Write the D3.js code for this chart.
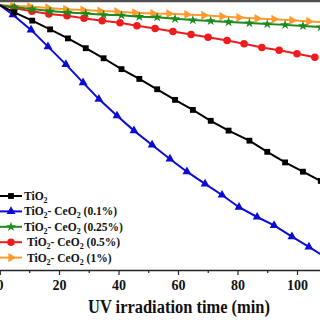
<!DOCTYPE html>
<html>
<head>
<meta charset="utf-8">
<script src="https://cdn.jsdelivr.net/npm/d3@7"></script>
<style>
  html, body { margin: 0; padding: 0; background: #fff; }
  svg { display: block; }
</style>
</head>
<body>
<svg id="chart" width="320" height="320"></svg>
<script>
// values: time (min) and C/C0
var tBlack = [0, 5, 11, 17, 23, 29, 35, 41, 47, 53, 59, 65, 71, 77, 84, 90, 96, 102, 108];
var vBlack = [1.000, 0.972, 0.941, 0.908, 0.874, 0.837, 0.799, 0.758, 0.721, 0.682, 0.642, 0.604, 0.563, 0.526, 0.488, 0.446, 0.406, 0.371, 0.336];

var tBlue = [0, 4.5, 10.6, 16.3, 22.3, 28.1, 33.4, 39.5, 45.2, 51.3, 57.3, 63, 69.1, 74.8, 80.5, 86.6, 92.3, 98.3, 104, 110];
var vBlue = [1.000, 0.963, 0.906, 0.843, 0.776, 0.707, 0.645, 0.582, 0.526, 0.472, 0.419, 0.371, 0.325, 0.283, 0.237, 0.200, 0.168, 0.126, 0.087, 0.045];

var tGreen = [0, 5, 11, 17, 23, 29, 35, 41, 47, 53, 59, 65, 71, 77, 84, 90, 96, 102, 108];
var vGreen = [0.998, 0.992, 0.985, 0.977, 0.972, 0.968, 0.963, 0.961, 0.956, 0.954, 0.948, 0.943, 0.940, 0.936, 0.932, 0.928, 0.925, 0.921, 0.917];

var tRed = [0, 4.9, 10.9, 16.6, 22.7, 28.4, 34.5, 40.5, 46.2, 52.3, 58.3, 64.4, 70.1, 76.5, 82.2, 88.2, 94, 100, 106];
var vRed = [1.000, 0.989, 0.976, 0.966, 0.959, 0.950, 0.941, 0.933, 0.922, 0.911, 0.900, 0.889, 0.878, 0.866, 0.854, 0.840, 0.829, 0.816, 0.803];

var tOrange = [0, 4.5, 10.2, 16.3, 22.3, 28.1, 33.8, 39.5, 45.5, 51.6, 57, 63, 68.7, 74.8, 80.5, 86.6, 92.3, 98.3, 104, 110];
var vOrange = [1.000, 0.996, 0.994, 0.989, 0.984, 0.981, 0.977, 0.975, 0.971, 0.968, 0.967, 0.964, 0.961, 0.957, 0.953, 0.949, 0.946, 0.942, 0.938, 0.934];

var seriesNames = [
    ["TiO", "2", "", "", ""],
    ["TiO", "2", "- CeO", "2", " (0.1%)"],
    ["TiO", "2", "- CeO", "2", " (0.25%)"],
    ["TiO", "2", "- CeO", "2", " (0.5%)"],
    ["TiO", "2", "- CeO", "2", " (1%)"]
];
var xTicks = [0, 20, 40, 60, 80, 100];
var xTitle = "UV irradiation time (min)";

var series = [
    {t: tBlack,  v: vBlack,  color: "#000000", shape: "square"},
    {t: tBlue,   v: vBlue,   color: "#0b0bd6", shape: "triangle"},
    {t: tGreen,  v: vGreen,  color: "#1c8a1c", shape: "star"},
    {t: tRed,    v: vRed,    color: "#ee1c1c", shape: "circle"},
    {t: tOrange, v: vOrange, color: "#ff9b2e", shape: "right"}
];

var svg = d3.select("#chart");
svg.append("rect").attr("width", 320).attr("height", 320).attr("fill", "#fff");

var axisY = 270;
var x = d3.scaleLinear().domain([0, 110]).range([-0.5, -0.5 + 110 * 2.975]);
var y = d3.scaleLinear().domain([0, 1]).range([axisY, 5]);

var serif = "'Liberation Serif', 'Times New Roman', serif";

function markerPath(shape) {
    if (shape === "square") return d3.symbol().type(d3.symbolSquare).size(34)();
    if (shape === "triangle") return d3.symbol().type(d3.symbolTriangle).size(34)();
    if (shape === "star") return d3.symbol().type(d3.symbolStar).size(30)();
    if (shape === "circle") return d3.symbol().type(d3.symbolCircle).size(44)();
    return d3.symbol().type(d3.symbolTriangle).size(36)();
}
function markerRot(shape) { return shape === "right" ? 90 : 0; }

// top frame
svg.append("line")
    .attr("x1", 0).attr("x2", 320).attr("y1", 1).attr("y2", 1)
    .attr("stroke", "#505050").attr("stroke-width", 2.5);

// data
var line = d3.line();
series.slice().reverse().forEach(function (s, i) {
    var g = svg.append("g");
    var pts = s.t.map(function (t, k) { return [x(t), y(s.v[k])]; });
    g.append("path")
        .attr("d", line(pts))
        .attr("fill", "none")
        .attr("stroke", s.color)
        .attr("stroke-width", 2);
    g.selectAll("path.m")
        .data(pts.slice(1))
        .enter()
        .append("path")
        .attr("class", "m")
        .attr("d", markerPath(s.shape))
        .attr("transform", function (p) {
            return "translate(" + p[0] + "," + p[1] + ") rotate(" + markerRot(s.shape) + ")";
        })
        .attr("fill", s.color);
});

// x axis
var xAxis = d3.axisBottom(x)
    .tickValues(d3.range(0, 111, 10))
    .tickSize(5)
    .tickFormat(function (d) { return xTicks.indexOf(d) >= 0 ? d : ""; });
var ax = svg.append("g").attr("transform", "translate(0," + axisY + ")").call(xAxis);
ax.select(".domain").attr("stroke", "#222").attr("stroke-width", 1.5);
ax.selectAll(".tick line")
    .attr("stroke", "#222").attr("stroke-width", 1.2)
    .attr("y2", function (d) { return d % 20 === 0 ? 5 : 3; });
ax.selectAll(".tick text")
    .attr("y", 20).attr("dy", 0)
    .attr("font-family", serif).attr("font-weight", "bold")
    .attr("font-size", 14).attr("fill", "#111");

svg.append("text")
    .attr("x", 179).attr("y", 313)
    .attr("text-anchor", "middle")
    .attr("font-family", serif).attr("font-weight", "bold")
    .attr("font-size", 18)
    .attr("textLength", 182).attr("lengthAdjust", "spacingAndGlyphs")
    .attr("fill", "#111")
    .text(xTitle);

// legend
var legendTop = 196, legendStep = 15.4;
var legendDx = [0, 0, 0, 3, 3];
series.forEach(function (s, i) {
    var ly = legendTop + i * legendStep;
    var g = svg.append("g");
    g.append("line")
        .attr("x1", -2).attr("x2", 22).attr("y1", ly).attr("y2", ly)
        .attr("stroke", s.color).attr("stroke-width", 2);
    g.append("path")
        .attr("d", markerPath(s.shape))
        .attr("transform", "translate(11," + ly + ") rotate(" + markerRot(s.shape) + ")")
        .attr("fill", s.color);
    var txt = g.append("text")
        .attr("x", 24 + legendDx[i]).attr("y", ly + 4)
        .attr("font-family", serif).attr("font-weight", "bold")
        .attr("font-size", 11.5).attr("fill", "#111");
    var parts = seriesNames[i];
    txt.append("tspan").text(parts[0]);
    txt.append("tspan").attr("dy", 3).attr("font-size", 8).text(parts[1]);
    if (parts[2]) {
        txt.append("tspan").attr("dy", -3).text(parts[2]);
        txt.append("tspan").attr("dy", 3).attr("font-size", 8).text(parts[3]);
        txt.append("tspan").attr("dy", -3).text(parts[4]);
    }
});
</script>
</body>
</html>
